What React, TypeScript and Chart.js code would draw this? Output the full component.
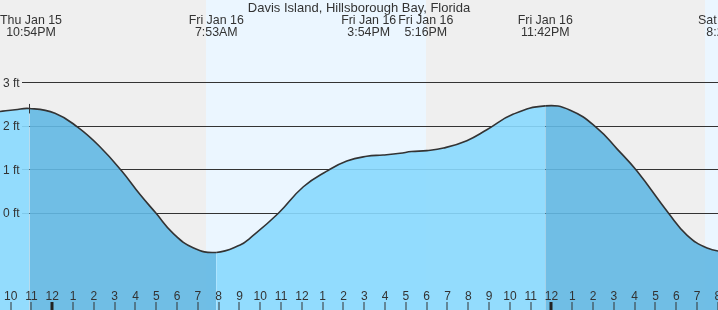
import React, { useEffect, useRef } from "react";
import { Chart, registerables } from "chart.js";

Chart.register(...registerables);

// ---- data ----
const TITLE = "Davis Island, Hillsborough Bay, Florida";

// hours measured from midnight Thu/Fri (Jan 16 00:00)
const tideHours = [
  -2.52, -1.79, -1.1, 0.13, 1.22, 2.29, 3.34, 4.22, 4.99, 5.81, 6.77, 7.88,
  9.03, 9.51, 10.87, 12.07, 13.2, 14.16, 15.12, 15.9, 16.72, 17.27, 18.01,
  18.81, 19.93, 20.89, 22.17, 23.7, 24.9, 26.19, 27.15, 28.11, 29.63, 30.51,
  31.48, 32.47,
];
const tideFeet = [
  2.34, 2.38, 2.41, 2.3, 1.98, 1.53, 0.97, 0.43, 0.0, -0.46, -0.79, -0.9,
  -0.73, -0.57, 0.0, 0.61, 0.97, 1.2, 1.31, 1.34, 1.38, 1.42, 1.44, 1.5, 1.67,
  1.92, 2.28, 2.47, 2.37, 1.96, 1.48, 0.97, 0.0, -0.5, -0.8, -0.9,
];

const eventHours = [-1.1, 7.883, 15.9, 17.267, 23.7, 32.47];
const eventDays = ["Thu Jan 15", "Fri Jan 16", "Fri Jan 16", "Fri Jan 16", "Fri Jan 16", "Sat Jan 17"];
const eventTimes = ["10:54PM", "7:53AM", "3:54PM", "5:16PM", "11:42PM", "8:28AM"];

const dayStarts = [7.39, 31.39];
const dayEnds = [17.97, 42];

const yTicks = [0, 1, 2, 3];
const yTickLabels = ["0 ft", "1 ft", "2 ft", "3 ft"];

const hourTickStart = -2;
const hourLabels = [
  "10", "11", "12", "1", "2", "3", "4", "5", "6", "7", "8", "9", "10", "11",
  "12", "1", "2", "3", "4", "5", "6", "7", "8", "9", "10", "11", "12", "1",
  "2", "3", "4", "5", "6", "7", "8",
];
const midnightHours = [0, 24];

const markerHour = -1.1;
const markerFeet = 2.41;

// ---- styles ----
const NIGHT = "#efefef";
const DAY = "#ebf6ff";
const LIGHT = "rgba(136,217,254,0.9)";
const DARK = "rgba(98,184,227,0.9)";
const INK = "#333";
const FAMILY = "'Liberation Sans', Arial, sans-serif";
const FONT = "12px " + FAMILY;
const EVENT_FONT = "12.4px " + FAMILY;
const TITLE_FONT = "13px " + FAMILY;

const decorPlugin = {
  id: "tideDecor",
  beforeDatasetsDraw(chart: any) {
    const { ctx, chartArea: a, scales } = chart;
    const x = scales.x;
    const y = scales.y;
    ctx.save();
    ctx.fillStyle = NIGHT;
    ctx.fillRect(a.left, a.top, a.right - a.left, a.bottom - a.top);
    ctx.fillStyle = DAY;
    dayStarts.forEach((s, i) => {
      const x0 = Math.max(a.left, Math.round(x.getPixelForValue(s)));
      const x1 = Math.min(a.right, Math.round(x.getPixelForValue(dayEnds[i])));
      if (x1 > x0) ctx.fillRect(x0, a.top, x1 - x0, a.bottom - a.top);
    });
    ctx.strokeStyle = INK;
    ctx.lineWidth = 1;
    yTicks.forEach((v) => {
      const py = Math.floor(y.getPixelForValue(v)) + 0.5;
      ctx.beginPath();
      ctx.moveTo(a.left + 22, py);
      ctx.lineTo(a.right, py);
      ctx.stroke();
    });
    ctx.restore();
  },
  afterDatasetsDraw(chart: any) {
    const { ctx, chartArea: a, scales } = chart;
    const x = scales.x;
    const y = scales.y;
    ctx.save();
    ctx.font = FONT;
    ctx.fillStyle = INK;

    // y labels
    ctx.textAlign = "left";
    ctx.textBaseline = "middle";
    yTicks.forEach((v, i) => {
      ctx.fillText(yTickLabels[i], a.left + 3, y.getPixelForValue(v) + 0.5);
    });

    // marker
    const mx = Math.floor(x.getPixelForValue(markerHour)) + 0.5;
    const my = y.getPixelForValue(markerFeet);
    ctx.strokeStyle = INK;
    ctx.lineWidth = 1;
    ctx.beginPath();
    ctx.moveTo(mx, my - 4.5);
    ctx.lineTo(mx, my + 5);
    ctx.stroke();

    // hour ticks
    ctx.textAlign = "center";
    ctx.textBaseline = "alphabetic";
    hourLabels.forEach((lab, i) => {
      const h = hourTickStart + i;
      const px = x.getPixelForValue(h);
      const thick = midnightHours.indexOf(h) >= 0;
      ctx.fillStyle = INK;
      ctx.fillText(lab, px, a.bottom - 10);
      if (thick) {
        ctx.fillStyle = "#222";
        ctx.fillRect(Math.round(px) - 1.5, a.bottom - 8, 3, 8);
      } else {
        ctx.fillStyle = "#333";
        ctx.fillRect(Math.round(px) - 0.5, a.bottom - 8, 1, 8);
      }
    });

    // title
    ctx.fillStyle = INK;
    ctx.font = TITLE_FONT;
    ctx.fillText(TITLE, (a.left + a.right) / 2, a.top + 12);

    // event labels, spread apart when overlapping
    ctx.font = EVENT_FONT;
    const widths = eventDays.map((d, i) =>
      Math.max(ctx.measureText(d).width, ctx.measureText(eventTimes[i]).width)
    );
    const centers = eventHours.map((h) => x.getPixelForValue(h));
    if (centers[0] - widths[0] / 2 < a.left) centers[0] = a.left + widths[0] / 2;
    for (let i = 1; i < centers.length; i++) {
      const need = (widths[i - 1] + widths[i]) / 2 + 2;
      if (centers[i] - centers[i - 1] < need) {
        const mid = (centers[i] + centers[i - 1]) / 2;
        centers[i - 1] = mid - need / 2;
        centers[i] = mid + need / 2;
      }
    }
    eventDays.forEach((d, i) => {
      ctx.fillText(d, centers[i], a.top + 24);
      ctx.fillText(eventTimes[i], centers[i], a.top + 36);
    });
    ctx.restore();
  },
};

export default function App() {
  const ref = useRef<HTMLCanvasElement | null>(null);
  useEffect(() => {
    document.body.style.margin = "0";
    const canvas = ref.current;
    if (!canvas) return;
    const points = tideHours.map((h, i) => ({ x: h, y: tideFeet[i] }));
    const chart = new Chart(canvas, {
      type: "line",
      data: {
        datasets: [
          {
            data: points,
            borderColor: "#333",
            borderWidth: 1.6,
            backgroundColor: LIGHT,
            fill: "start",
            pointRadius: 0,
            tension: 0.45,
            segment: {
              backgroundColor: (c: any) => (c.p1.parsed.y < c.p0.parsed.y ? DARK : LIGHT),
            },
          } as any,
        ],
      },
      options: {
        responsive: false,
        animation: false,
        events: [],
        layout: { padding: 0 },
        plugins: { legend: { display: false }, tooltip: { enabled: false }, title: { display: false } },
        scales: {
          x: { type: "linear", display: false, min: -2.514, max: 32.005 },
          y: { type: "linear", display: false, min: -2.223, max: 4.903 },
        },
      },
      plugins: [decorPlugin],
    });
    return () => chart.destroy();
  }, []);
  return <canvas ref={ref} width={718} height={310} style={{ display: "block" }} />;
}
